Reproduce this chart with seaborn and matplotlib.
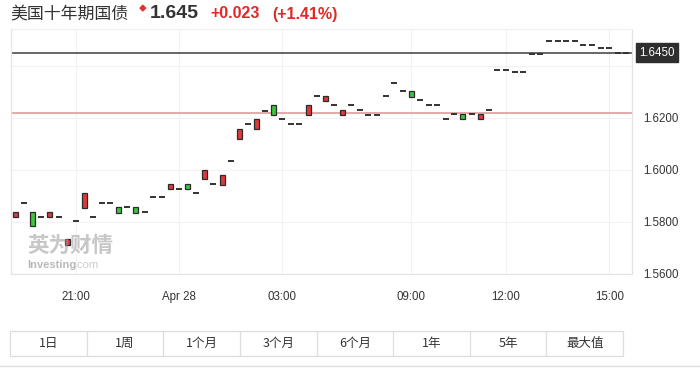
import matplotlib
matplotlib.use("Agg")
import matplotlib.pyplot as plt
from matplotlib.patches import Rectangle
import numpy as np
import pandas as pd
import seaborn as sns

# ---------------- data ----------------
opens = [1.5820, 1.5874, 1.5837, 1.5820, 1.5820, 1.5820, 1.5712, 1.5803, 1.5855, 1.5820,
         1.5874, 1.5874, 1.5857, 1.5857, 1.5857, 1.5837, 1.5895, 1.5895, 1.5926, 1.5928,
         1.5945, 1.5910, 1.5964, 1.5945, 1.5943, 1.6036, 1.6119, 1.6176, 1.6158, 1.6228,
         1.6249, 1.6196, 1.6176, 1.6176, 1.6212, 1.6283, 1.6264, 1.6250, 1.6210, 1.6250,
         1.6230, 1.6213, 1.6213, 1.6283, 1.6336, 1.6304, 1.6304, 1.6267, 1.6250, 1.6250,
         1.6196, 1.6214, 1.6214, 1.6214, 1.6195, 1.6231, 1.6386, 1.6386, 1.6377, 1.6377,
         1.6446, 1.6446, 1.6496, 1.6496, 1.6496, 1.6496, 1.6480, 1.6480, 1.6468, 1.6468,
         1.6448, 1.6448]
closes = [1.5837, 1.5874, 1.5786, 1.5820, 1.5837, 1.5820, 1.5735, 1.5803, 1.5913, 1.5820,
          1.5874, 1.5874, 1.5836, 1.5857, 1.5836, 1.5837, 1.5895, 1.5895, 1.5945, 1.5928,
          1.5926, 1.5910, 1.6000, 1.5945, 1.5981, 1.6036, 1.6158, 1.6176, 1.6196, 1.6228,
          1.6210, 1.6196, 1.6176, 1.6176, 1.6250, 1.6283, 1.6283, 1.6250, 1.6230, 1.6250,
          1.6230, 1.6213, 1.6213, 1.6283, 1.6336, 1.6304, 1.6282, 1.6267, 1.6250, 1.6250,
          1.6196, 1.6214, 1.6195, 1.6214, 1.6214, 1.6231, 1.6386, 1.6386, 1.6377, 1.6377,
          1.6446, 1.6446, 1.6496, 1.6496, 1.6496, 1.6496, 1.6480, 1.6480, 1.6468, 1.6468,
          1.6448, 1.6448]
prev_close = 1.622
last_price = 1.645
tick_pos = [7, 19, 31, 46, 57, 69]
tick_labels = ["21:00", "Apr 28", "03:00", "09:00", "12:00", "15:00"]
y_ticks = [1.56, 1.58, 1.60, 1.62]
grid_y = [1.56, 1.58, 1.60, 1.62, 1.64]
title_name = "美国十年期国债"
title_price = "1.645"
title_change = "+0.023"
title_pct = "(+1.41%)"
buttons = ["1日", "1周", "1个月", "3个月", "6个月", "1年", "5年", "最大值"]

# ---------------- style ----------------
sns.set_theme(style="white")
plt.rcParams["font.family"] = ["Liberation Sans", "Noto Sans CJK SC", "DejaVu Sans"]
CJK = ["Noto Sans CJK SC", "DejaVu Sans"]

W, H = 700, 372
fig = plt.figure(figsize=(W / 100, H / 100), dpi=100)
fig.patch.set_facecolor("white")
ax = fig.add_axes([11 / W, 98 / H, 621 / W, 244 / H])

df = pd.DataFrame({"i": np.arange(len(opens)), "open": opens, "close": closes})
df["doji"] = (df["open"] - df["close"]).abs() < 1e-6
df["up"] = df["close"] > df["open"]

# grid
for g in grid_y:
    ax.axhline(g, color="#f2f2f2", lw=0.8, zorder=0)
for t in tick_pos:
    ax.axvline(t, color="#f2f2f2", lw=0.8, zorder=0)

# reference lines
ax.axhline(prev_close, color="#e3a3a3", lw=1.3, zorder=1)
ax.axhline(last_price, color="#5a5a5a", lw=1.3, zorder=1)

# boxes
boxes = df[~df["doji"]]
bottoms = boxes[["open", "close"]].min(axis=1)
heights = (boxes["open"] - boxes["close"]).abs()
colors = np.where(boxes["up"], "#e0393b", "#3fc43f")
ax.bar(boxes["i"], heights, bottom=bottoms, width=0.58, color=colors,
       edgecolor="#2b2b2b", linewidth=0.9, zorder=3)

# doji dashes
dojis = df[df["doji"]]
sns.scatterplot(data=dojis, x="i", y="close", marker="_", s=14, linewidth=1.4,
                color="#333333", ax=ax, zorder=3, legend=False)

ax.set_xlim(-0.52, 71.64)
ax.set_ylim(1.56, 1.6538)
ax.set_xlabel("")
ax.set_ylabel("")
ax.set_xticks(tick_pos)
ax.set_xticklabels(tick_labels)
ax.yaxis.tick_right()
ax.set_yticks(y_ticks)
ax.set_yticklabels([f"{v:.4f}" for v in y_ticks])
ax.tick_params(axis="x", length=0, pad=12, labelsize=8.3, colors="#333333")
ax.tick_params(axis="y", length=0, pad=8, labelsize=8.3, colors="#333333")
for s in ["left", "bottom", "right"]:
    ax.spines[s].set_color("#e4e4e4")
    ax.spines[s].set_linewidth(0.9)
ax.spines["top"].set_visible(False)

# current price tag
ax.text(1.012, last_price, "1.6450", transform=ax.get_yaxis_transform(),
        ha="left", va="center", color="white", fontsize=8.3,
        bbox=dict(boxstyle="square,pad=0.3", fc="#2e2e2e", ec="#2e2e2e"))

# watermark
fig.text(27 / W, 1 - 245 / H, "英为财情", family=CJK, fontsize=15.5, fontweight="bold",
         color="#9a9a9a", alpha=0.55, ha="left", va="center", zorder=5)
fig.text(27 / W, 1 - 265 / H, "Investing", fontsize=8, fontweight="bold",
         color="#8a8a8a", alpha=0.6, ha="left", va="center", zorder=5)
fig.text(74 / W, 1 - 265 / H, ".com", fontsize=8, color="#aaaaaa", alpha=0.6,
         ha="left", va="center", zorder=5)

# title
fig.text(10 / W, 1 - 14 / H, title_name, family=CJK, fontsize=12.2, color="#333333",
         ha="left", va="center")
fig.text(139 / W, 1 - 9 / H, "◆", family=CJK, fontsize=5.5, color="#e03030",
         ha="left", va="center")
fig.text(150 / W, 1 - 14 / H, title_price, fontsize=14, fontweight="bold",
         color="#333333", ha="left", va="center")
fig.text(210 / W, 1 - 14 / H, title_change, fontsize=11.5, fontweight="bold",
         color="#e02828", ha="left", va="center")
fig.text(272 / W, 1 - 14 / H, title_pct, fontsize=11.5, fontweight="bold",
         color="#e02828", ha="left", va="center")
fig.add_artist(plt.Line2D([10 / W, 632 / W], [1 - 29 / H, 1 - 29 / H],
                          color="#eeeeee", lw=0.8, transform=fig.transFigure))

# period buttons
bx0, bx1, by0, by1 = 10, 623, 331, 356
fig.add_artist(Rectangle((bx0 / W, 1 - by1 / H), (bx1 - bx0) / W, (by1 - by0) / H,
                         transform=fig.transFigure, fc="white", ec="#dddddd", lw=0.9))
cw = (bx1 - bx0) / len(buttons)
for k, lab in enumerate(buttons):
    if k > 0:
        xx = (bx0 + k * cw) / W
        fig.add_artist(plt.Line2D([xx, xx], [1 - by1 / H, 1 - by0 / H], color="#dddddd",
                                  lw=0.9, transform=fig.transFigure))
    fig.text((bx0 + (k + 0.5) * cw) / W, 1 - (by0 + by1) / 2 / H, lab, family=CJK,
             fontsize=9, color="#333333", ha="center", va="center")
fig.add_artist(plt.Line2D([0, 1], [1 - 366 / H, 1 - 366 / H], color="#dddddd",
                          lw=1.0, transform=fig.transFigure))

fig.savefig("out.png", dpi=100, facecolor="white")
